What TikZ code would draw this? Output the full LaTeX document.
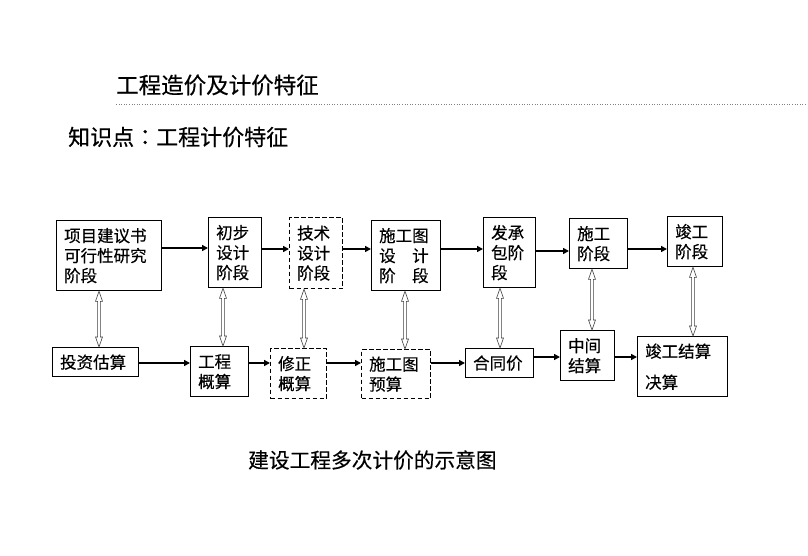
\documentclass[tikz,border=0pt]{standalone}
\usepackage{fontspec}
\setmainfont{Noto Sans CJK SC}[FakeBold=0.4]
\newfontfamily\tcfont{Noto Sans CJK TC}[FakeBold=0.4]
\usetikzlibrary{arrows.meta,calc}
\newcommand{\hollowarrow}[3]{%
  \draw[hollow] let \p1=(#2.south), \p2=(#3.north), \p3=(#1,0) in
    (\x3,\y1) -- (\x3+3.5pt,\y1-10pt) -- (\x3+1.4pt,\y1-10pt) -- (\x3+1.4pt,\y2+10pt)
    -- (\x3+3.5pt,\y2+10pt) -- (\x3,\y2) -- (\x3-3.5pt,\y2+10pt) -- (\x3-1.4pt,\y2+10pt)
    -- (\x3-1.4pt,\y1-10pt) -- (\x3-3.5pt,\y1-10pt) -- cycle;}
\begin{document}
\begin{tikzpicture}[x=1pt,y=-1pt,
  box/.style={draw, line width=1.3pt, anchor=north west, inner xsep=7.5pt, inner ysep=0pt,
    align=left, font=\fontsize{16.5}{20}\selectfont},
  dbox/.style={box, dash pattern=on 4.5pt off 2.5pt},
  flow/.style={line width=1.6pt, -{Triangle[length=6pt,width=6pt]}},
  hollow/.style={draw=black!75, line width=0.6pt, fill=white}]
\useasboundingbox (0,0) rectangle (808,556);

\node[anchor=west, inner sep=0pt, font=\fontsize{22.5}{27}\selectfont] (title) at (116,85) {工程造价及计价特征};
\draw[gray, dotted, line width=0.6pt] (title.west |- 0,104) -- (808,104);
\node[anchor=west, inner sep=0pt, font=\fontsize{22}{26}\selectfont] (point) at (68,137) {知识点{\tcfont ：}工程计价特征};

% top row
\node[box, text width=90pt, minimum height=70pt] (B1) at (56,220) {项目建议书\\可行性研究\\阶段};
\node[box, text width=38pt, minimum height=70pt] (B2) at (208,217) {初步\\设计\\阶段};
\node[dbox, text width=38pt, minimum height=71pt] (B3) at (289,217) {技术\\设计\\阶段};
\node[box, text width=54pt, minimum height=70pt] (B4) at (371,220) {施工图\\设　计\\阶　段};
\node[box, text width=37pt, minimum height=70pt] (B5) at (483,217) {发承\\包阶\\段};
\node[box, text width=43pt, minimum height=50pt] (B6) at (569,218) {施工\\阶段};
\node[box, text width=40pt, minimum height=50pt] (B7) at (667,216) {竣工\\阶段};

% bottom row
\node[box, text width=71pt, minimum height=29pt] (C1) at (52,347) {投资估算};
\node[box, text width=43pt, minimum height=50pt] (C2) at (190,346) {工程\\概算};
\node[dbox, text width=41pt, minimum height=50pt] (C3) at (270,348) {修正\\概算};
\node[dbox, text width=54pt, minimum height=49pt] (C4) at (361,349) {施工图\\预算};
\node[box, text width=53pt, minimum height=29pt] (C5) at (465,348) {合同价};
\node[box, text width=39pt, minimum height=50pt] (C6) at (560,330) {中间\\结算};
\node[box, text width=75pt, minimum height=60pt] (C7) at (637,336) {竣工结算\\[11pt]决算};

% flow arrows top
\draw[flow] (B1.east |- 0,248) -- (B2.west |- 0,248);
\draw[flow] (B2.east |- 0,249) -- (B3.west |- 0,249);
\draw[flow] (B3.east |- 0,249) -- (B4.west |- 0,249);
\draw[flow] (B4.east |- 0,249) -- (B5.west |- 0,249);
\draw[flow] (B5.east |- 0,251) -- (B6.west |- 0,251);
\draw[flow] (B6.east |- 0,249) -- (B7.west |- 0,249);
% flow arrows bottom
\draw[flow] (C1.east |- 0,363) -- (C2.west |- 0,363);
\draw[flow] (C2.east |- 0,363) -- (C3.west |- 0,363);
\draw[flow] (C3.east |- 0,363) -- (C4.west |- 0,363);
\draw[flow] (C4.east |- 0,363) -- (C5.west |- 0,363);
\draw[flow] (C5.east |- 0,357) -- (C6.west |- 0,357);
\draw[flow] (C6.east |- 0,357) -- (C7.west |- 0,357);

% hollow double arrows
\hollowarrow{99}{B1}{C1}
\hollowarrow{223}{B2}{C2}
\hollowarrow{304}{B3}{C3}
\hollowarrow{405}{B4}{C4}
\hollowarrow{500}{B5}{C5}
\hollowarrow{592}{B6}{C6}
\hollowarrow{693}{B7}{C7}

\node[anchor=west, inner sep=0pt, font=\fontsize{20.7}{25}\selectfont] (caption) at (248,460) {建设工程多次计价的示意图};
\end{tikzpicture}
\end{document}
